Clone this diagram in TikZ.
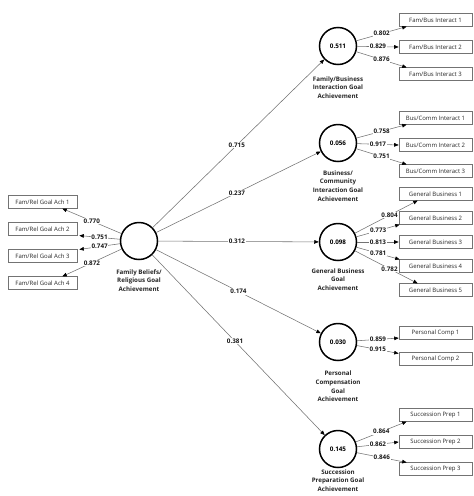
\documentclass[tikz,border=0pt]{standalone}
\usepackage{fontspec}
\setmainfont{Open Sans}
\usetikzlibrary{arrows.meta,calc}
\begin{document}
\begin{tikzpicture}[x=1pt,y=-1pt,
 lv/.style={circle,draw=black,line width=1.5pt,minimum size=37pt,inner sep=0pt,font=\fontsize{6.3}{7}\selectfont\bfseries},
 ind/.style={draw=black!55,line width=0.6pt,minimum width=73pt,minimum height=12.5pt,inner sep=0pt,font=\fontsize{6}{7}\selectfont,text=black!85},
 lind/.style={ind,minimum width=69pt},
 lab/.style={font=\fontsize{6.2}{8.7}\selectfont\bfseries,align=center,text=black!85},
 con/.style={draw=black!55,line width=0.55pt,-{Triangle[length=4.5pt,width=3.6pt,color=black]}},
 num/.style={fill=white,inner sep=0.7pt,font=\fontsize{6.3}{7}\selectfont\bfseries,text=black!90}]
\useasboundingbox (0,0) rectangle (474,496);

% central latent
\node[lv] (fr) at (139,241) {};
\node[lab] (frl) at (139,280.5) {Family Beliefs/\\Religious Goal\\Achievement};

% left indicators
\node[lind] (l1) at (42.5,202) {Fam/Rel Goal Ach 1};
\node[lind] (l2) at (42.5,229) {Fam/Rel Goal Ach 2};
\node[lind] (l3) at (42.5,256) {Fam/Rel Goal Ach 3};
\node[lind] (l4) at (42.5,283) {Fam/Rel Goal Ach 4};
\draw[con] (fr) -- node[num]{0.770} ($(l1.south east)+(-15,0)$);
\draw[con] (fr) -- node[num]{0.751} ($(l2.south east)+(2,0)$);
\draw[con] (fr) -- node[num]{0.747} ($(l3.north east)+(2,0)$);
\draw[con] (fr) -- node[num]{0.872} ($(l4.north east)+(-15,0)$);

% endogenous latents
\node[lv] (fb) at (338,46) {0.511};
\node[lab] (fbl) at (338,87.5) {Family/Business\\Interaction Goal\\Achievement};
\node[lv] (bc) at (338,143) {0.056};
\node[lab] (bcl) at (338,186) {Business/\\Community\\Interaction Goal\\Achievement};
\node[lv] (gb) at (338,242) {0.098};
\node[lab] (gbl) at (338,279.5) {General Business\\Goal\\Achievement};
\node[lv] (pc) at (338,342) {0.030};
\node[lab] (pcl) at (338,386.5) {Personal\\Compensation\\Goal\\Achievement};
\node[lv] (sp) at (338,449) {0.145};
\node[lab] (spl) at (338,480.5) {Succession\\Preparation Goal\\Achievement};

% structural paths
\draw[con] (fr) -- node[num,pos=0.49]{0.715} (fb);
\draw[con] (fr) -- node[num,pos=0.49]{0.237} (bc);
\draw[con] (fr) -- node[num,pos=0.49]{0.312} (gb);
\draw[con] (fr) -- node[num,pos=0.5]{0.174} (pc);
\draw[con] (fr) -- node[num,pos=0.48]{0.381} (sp);

% Fam/Bus indicators
\node[ind] (f1) at (435.5,20) {Fam/Bus Interact 1};
\node[ind] (f2) at (435.5,47) {Fam/Bus Interact 2};
\node[ind] (f3) at (435.5,74) {Fam/Bus Interact 3};
\draw[con] (fb) -- node[num]{0.802} ($(f1.south west)+(8,0)$);
\draw[con] (fb) -- node[num]{0.829} (f2.west);
\draw[con] (fb) -- node[num]{0.876} ($(f3.north west)+(8,0)$);

% Bus/Comm indicators
\node[ind] (b1) at (435.5,118) {Bus/Comm Interact 1};
\node[ind] (b2) at (435.5,145) {Bus/Comm Interact 2};
\node[ind] (b3) at (435.5,171) {Bus/Comm Interact 3};
\draw[con] (bc) -- node[num]{0.758} ($(b1.south west)+(8,0)$);
\draw[con] (bc) -- node[num]{0.917} (b2.west);
\draw[con] (bc) -- node[num]{0.751} ($(b3.north west)+(8,0)$);

% General Business indicators
\node[ind] (g1) at (435.5,194) {General Business 1};
\node[ind] (g2) at (435.5,218) {General Business 2};
\node[ind] (g3) at (435.5,242) {General Business 3};
\node[ind] (g4) at (435.5,266) {General Business 4};
\node[ind] (g5) at (435.5,290) {General Business 5};
\draw[con] (gb) -- node[num,pos=0.55]{0.804} ($(g1.south west)+(19,0)$);
\draw[con] (gb) -- node[num]{0.773} ($(g2.south west)+(1,0)$);
\draw[con] (gb) -- node[num]{0.813} (g3.west);
\draw[con] (gb) -- node[num]{0.781} ($(g4.north west)+(1,0)$);
\draw[con] (gb) -- node[num,pos=0.55]{0.782} ($(g5.north west)+(19,0)$);

% Personal Comp indicators
\node[ind] (p1) at (435.5,333) {Personal Comp 1};
\node[ind] (p2) at (435.5,359) {Personal Comp 2};
\draw[con] (pc) -- node[num]{0.859} ($(p1.south west)+(0,-1.5)$);
\draw[con] (pc) -- node[num]{0.915} ($(p2.north west)+(0,1)$);

% Succession Prep indicators
\node[ind] (s1) at (435.5,415) {Succession Prep 1};
\node[ind] (s2) at (435.5,442) {Succession Prep 2};
\node[ind] (s3) at (435.5,469) {Succession Prep 3};
\draw[con] (sp) -- node[num]{0.864} ($(s1.south west)+(8,0)$);
\draw[con] (sp) -- node[num]{0.862} (s2.west);
\draw[con] (sp) -- node[num]{0.846} ($(s3.north west)+(8,0)$);
\end{tikzpicture}
\end{document}
